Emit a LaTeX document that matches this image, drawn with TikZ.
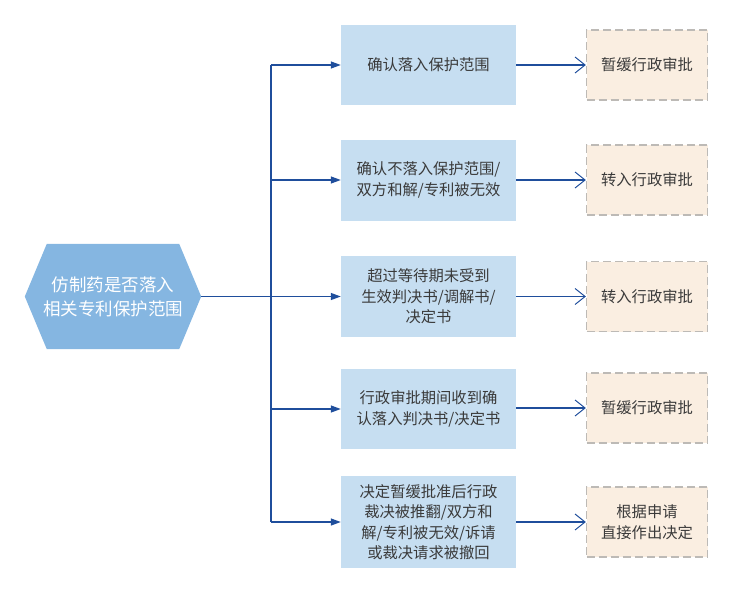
\documentclass[tikz,border=0pt]{standalone}
\usepackage{fontspec}
\setmainfont{Noto Sans CJK SC}
\usetikzlibrary{arrows.meta,calc}
\definecolor{boxblue}{HTML}{C6DEF1}
\definecolor{hexblue}{HTML}{85B6E1}
\definecolor{linkblue}{HTML}{1F4E9C}
\definecolor{cream}{HTML}{FAEEE1}
\definecolor{dashgray}{HTML}{BDBAB6}
\definecolor{txt}{HTML}{3A3A3A}
\tikzset{
  condbox/.style={fill=boxblue, draw=none, minimum width=175pt, text width=165pt, align=center,
    font=\fontsize{15.3pt}{20.5pt}\selectfont, text=txt, inner sep=0pt},
  resbox/.style={fill=cream, draw=dashgray, dashed, dash pattern=on 8pt off 4pt, line width=1.3pt,
    minimum width=121pt, minimum height=70pt, align=center,
    font=\fontsize{15.3pt}{20.5pt}\selectfont, text=txt, inner sep=0pt},
  link/.style={draw=linkblue, line width=1.3pt},
  filledtip/.style={link, -{Triangle[length=10pt,width=7pt]}},
  opentip/.style={link, -{Straight Barb[length=10pt,width=16pt,line width=1pt]}}
}
\begin{document}
\begin{tikzpicture}[x=1pt,y=-1pt]
\useasboundingbox (0,0) rectangle (733,594);
% hexagon
\node[minimum width=176pt, minimum height=105pt, inner sep=0pt] (hex) at (113,296.5) {};
\fill[hexblue] (hex.west) -- ($(hex.north west)+(22,0)$) -- ($(hex.north east)+(-22,0)$)
  -- (hex.east) -- ($(hex.south east)+(-22,0)$) -- ($(hex.south west)+(22,0)$) -- cycle;
\node[text=white, align=center, font=\fontsize{17.5pt}{24pt}\selectfont] (hextext) at (hex.center) {仿制药是否落入\\相关专利保护范围};
% condition boxes
\node[condbox, minimum height=80pt] (b1) at (428.5,65) {确认落入保护范围};
\node[condbox, minimum height=81pt] (b2) at (428.5,180) {确认不落入保护范围/\\双方和解/专利被无效};
\node[condbox, minimum height=81pt] (b3) at (428.5,296.5) {超过等待期未受到\\生效判决书/调解书/\\决定书};
\node[condbox, minimum height=80pt] (b4) at (428.5,409) {行政审批期间收到确\\认落入判决书/决定书};
\node[condbox, minimum height=92pt] (b5) at (428.5,522) {决定暂缓批准后行政\\裁决被推翻/双方和\\解/专利被无效/诉请\\或裁决请求被撤回};
% result boxes
\node[resbox] (r1) at (647,65) {暂缓行政审批};
\node[resbox] (r2) at (647,180) {转入行政审批};
\node[resbox] (r3) at (647,296.5) {转入行政审批};
\node[resbox] (r4) at (647,408) {暂缓行政审批};
\node[resbox] (r5) at (647,522) {根据申请\\直接作出决定};
% trunk
\coordinate (trunk) at (271,296.5);
\draw[link] (hex.east) -- (trunk);
\draw[link] (trunk |- b1.west) -- (trunk |- b5.west);
\foreach \b in {b1,b2,b3,b4,b5}{
  \draw[filledtip] (trunk |- \b.west) -- (\b.west);
}
\foreach \b/\r in {b1/r1,b2/r2,b3/r3,b4/r4,b5/r5}{
  \draw[opentip] (\b.east |- \r.west) -- (\r.west);
}
\end{tikzpicture}
\end{document}
